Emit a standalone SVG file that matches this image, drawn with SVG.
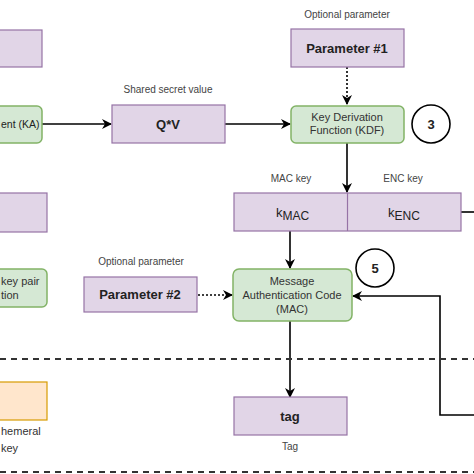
<svg xmlns="http://www.w3.org/2000/svg" width="474" height="474" viewBox="0 0 474 474">
<defs>
<style>
.p{fill:#e1d5e7;stroke:#9673a6;stroke-width:1.2}
.g{fill:#d5e8d4;stroke:#82b366;stroke-width:1.5}
.o{fill:#ffe6cc;stroke:#d79b00;stroke-width:1.2}
.t{font-family:"Liberation Sans",Arial,sans-serif;fill:#222}
.b{font-weight:bold;font-size:13px}
.n{font-size:11px;fill:#333}
.l{font-size:10px;fill:#444}
.c{fill:#fff;stroke:#000;stroke-width:1.6}
.e{fill:none;stroke:#000;stroke-width:1.6}
.d{fill:none;stroke:#000;stroke-width:1.6;stroke-dasharray:2 2}
.sep{fill:none;stroke:#333;stroke-width:2;stroke-dasharray:6 5}
</style>
<marker id="ah" viewBox="0 0 10 10" refX="9" refY="5" markerWidth="10" markerHeight="10" orient="auto" markerUnits="userSpaceOnUse">
<path d="M0,0 L10,5 L0,10 L3,5 Z" fill="#000"/>
</marker>
</defs>
<rect width="474" height="474" fill="#fff"/>
<g id="connectors">
<line class="e" x1="42" y1="124" x2="111" y2="124" marker-end="url(#ah)"/>
<line class="e" x1="225" y1="124" x2="290" y2="124" marker-end="url(#ah)"/>
<line class="d" x1="347" y1="67" x2="347" y2="104" marker-end="url(#ah)"/>
<line class="e" x1="347" y1="143" x2="347" y2="192" marker-end="url(#ah)"/>
<line class="e" x1="461" y1="212" x2="474" y2="212"/>
<line class="e" x1="290" y1="231" x2="290" y2="268" marker-end="url(#ah)"/>
<line class="d" x1="198" y1="295" x2="232" y2="295" marker-end="url(#ah)"/>
<polyline class="e" points="474,415 440,415 440,296 353,296" marker-end="url(#ah)"/>
<line class="e" x1="290" y1="321" x2="290" y2="397" marker-end="url(#ah)"/>
</g>
<g id="separators">
<line class="sep" x1="0" y1="359" x2="474" y2="359"/>
<line class="sep" x1="0" y1="472" x2="474" y2="472"/>
</g>
<g id="box-topleft"><rect class="p" x="-10" y="30" width="52" height="37"/></g>
<g id="ka"><rect class="g" x="-20" y="106" width="62" height="37" rx="5"/><text class="t" x="1" y="128" font-size="10.5" fill="#333">ent (KA)</text></g>
<g id="qv"><text class="t l" x="168" y="93" text-anchor="middle">Shared secret value</text><rect class="p" x="112" y="105" width="113" height="38"/><text class="t b" x="168" y="129" text-anchor="middle">Q*V</text></g>
<g id="param1"><text class="t l" x="347" y="18" text-anchor="middle">Optional parameter</text><rect class="p" x="291" y="29" width="113" height="38"/><text class="t b" x="347" y="53" text-anchor="middle">Parameter #1</text></g>
<g id="kdf"><rect class="g" x="291" y="106" width="113" height="37" rx="5"/><text class="t n" x="347" y="121" text-anchor="middle">Key Derivation</text><text class="t n" x="347" y="134" text-anchor="middle">Function (KDF)</text></g>
<g id="step3"><circle class="c" cx="431" cy="124" r="19"/><text class="t" x="431" y="129" text-anchor="middle" font-size="13" font-weight="bold">3</text></g>
<g id="keys"><text class="t l" x="291" y="182" text-anchor="middle">MAC key</text><text class="t l" x="403" y="182" text-anchor="middle">ENC key</text><rect class="p" x="234" y="193" width="227" height="38"/><line x1="347.5" y1="193" x2="347.5" y2="231" stroke="#9673a6" stroke-width="1.2"/><text class="t" x="276" y="217" font-size="13">k<tspan font-size="12" dy="3">MAC</tspan></text><text class="t" x="388" y="217" font-size="13">k<tspan font-size="12" dy="3">ENC</tspan></text></g>
<g id="box-midleft"><rect class="p" x="-10" y="193" width="57" height="39"/></g>
<g id="keypair"><rect class="g" x="-20" y="269" width="67" height="38" rx="5"/><text class="t n" x="1" y="285">key pair</text><text class="t n" x="1" y="299">tion</text></g>
<g id="param2"><text class="t l" x="141" y="265" text-anchor="middle">Optional parameter</text><rect class="p" x="84" y="277" width="113" height="35"/><text class="t b" x="140" y="299" text-anchor="middle">Parameter #2</text></g>
<g id="mac"><rect class="g" x="233" y="269" width="119" height="52" rx="6"/><text class="t n" x="292" y="285" text-anchor="middle">Message</text><text class="t n" x="292" y="299" text-anchor="middle">Authentication Code</text><text class="t n" x="292" y="313" text-anchor="middle">(MAC)</text></g>
<g id="step5"><circle class="c" cx="375" cy="268" r="19"/><text class="t" x="375" y="273" text-anchor="middle" font-size="13" font-weight="bold">5</text></g>
<g id="ephemeral"><rect class="o" x="-10" y="382" width="57" height="38"/><text class="t n" x="1" y="435">hemeral</text><text class="t n" x="1" y="452">key</text></g>
<g id="tag"><rect class="p" x="234" y="397" width="113" height="38"/><text class="t b" x="290" y="421" text-anchor="middle">tag</text><text class="t l" x="290" y="450" text-anchor="middle">Tag</text></g>
</svg>
